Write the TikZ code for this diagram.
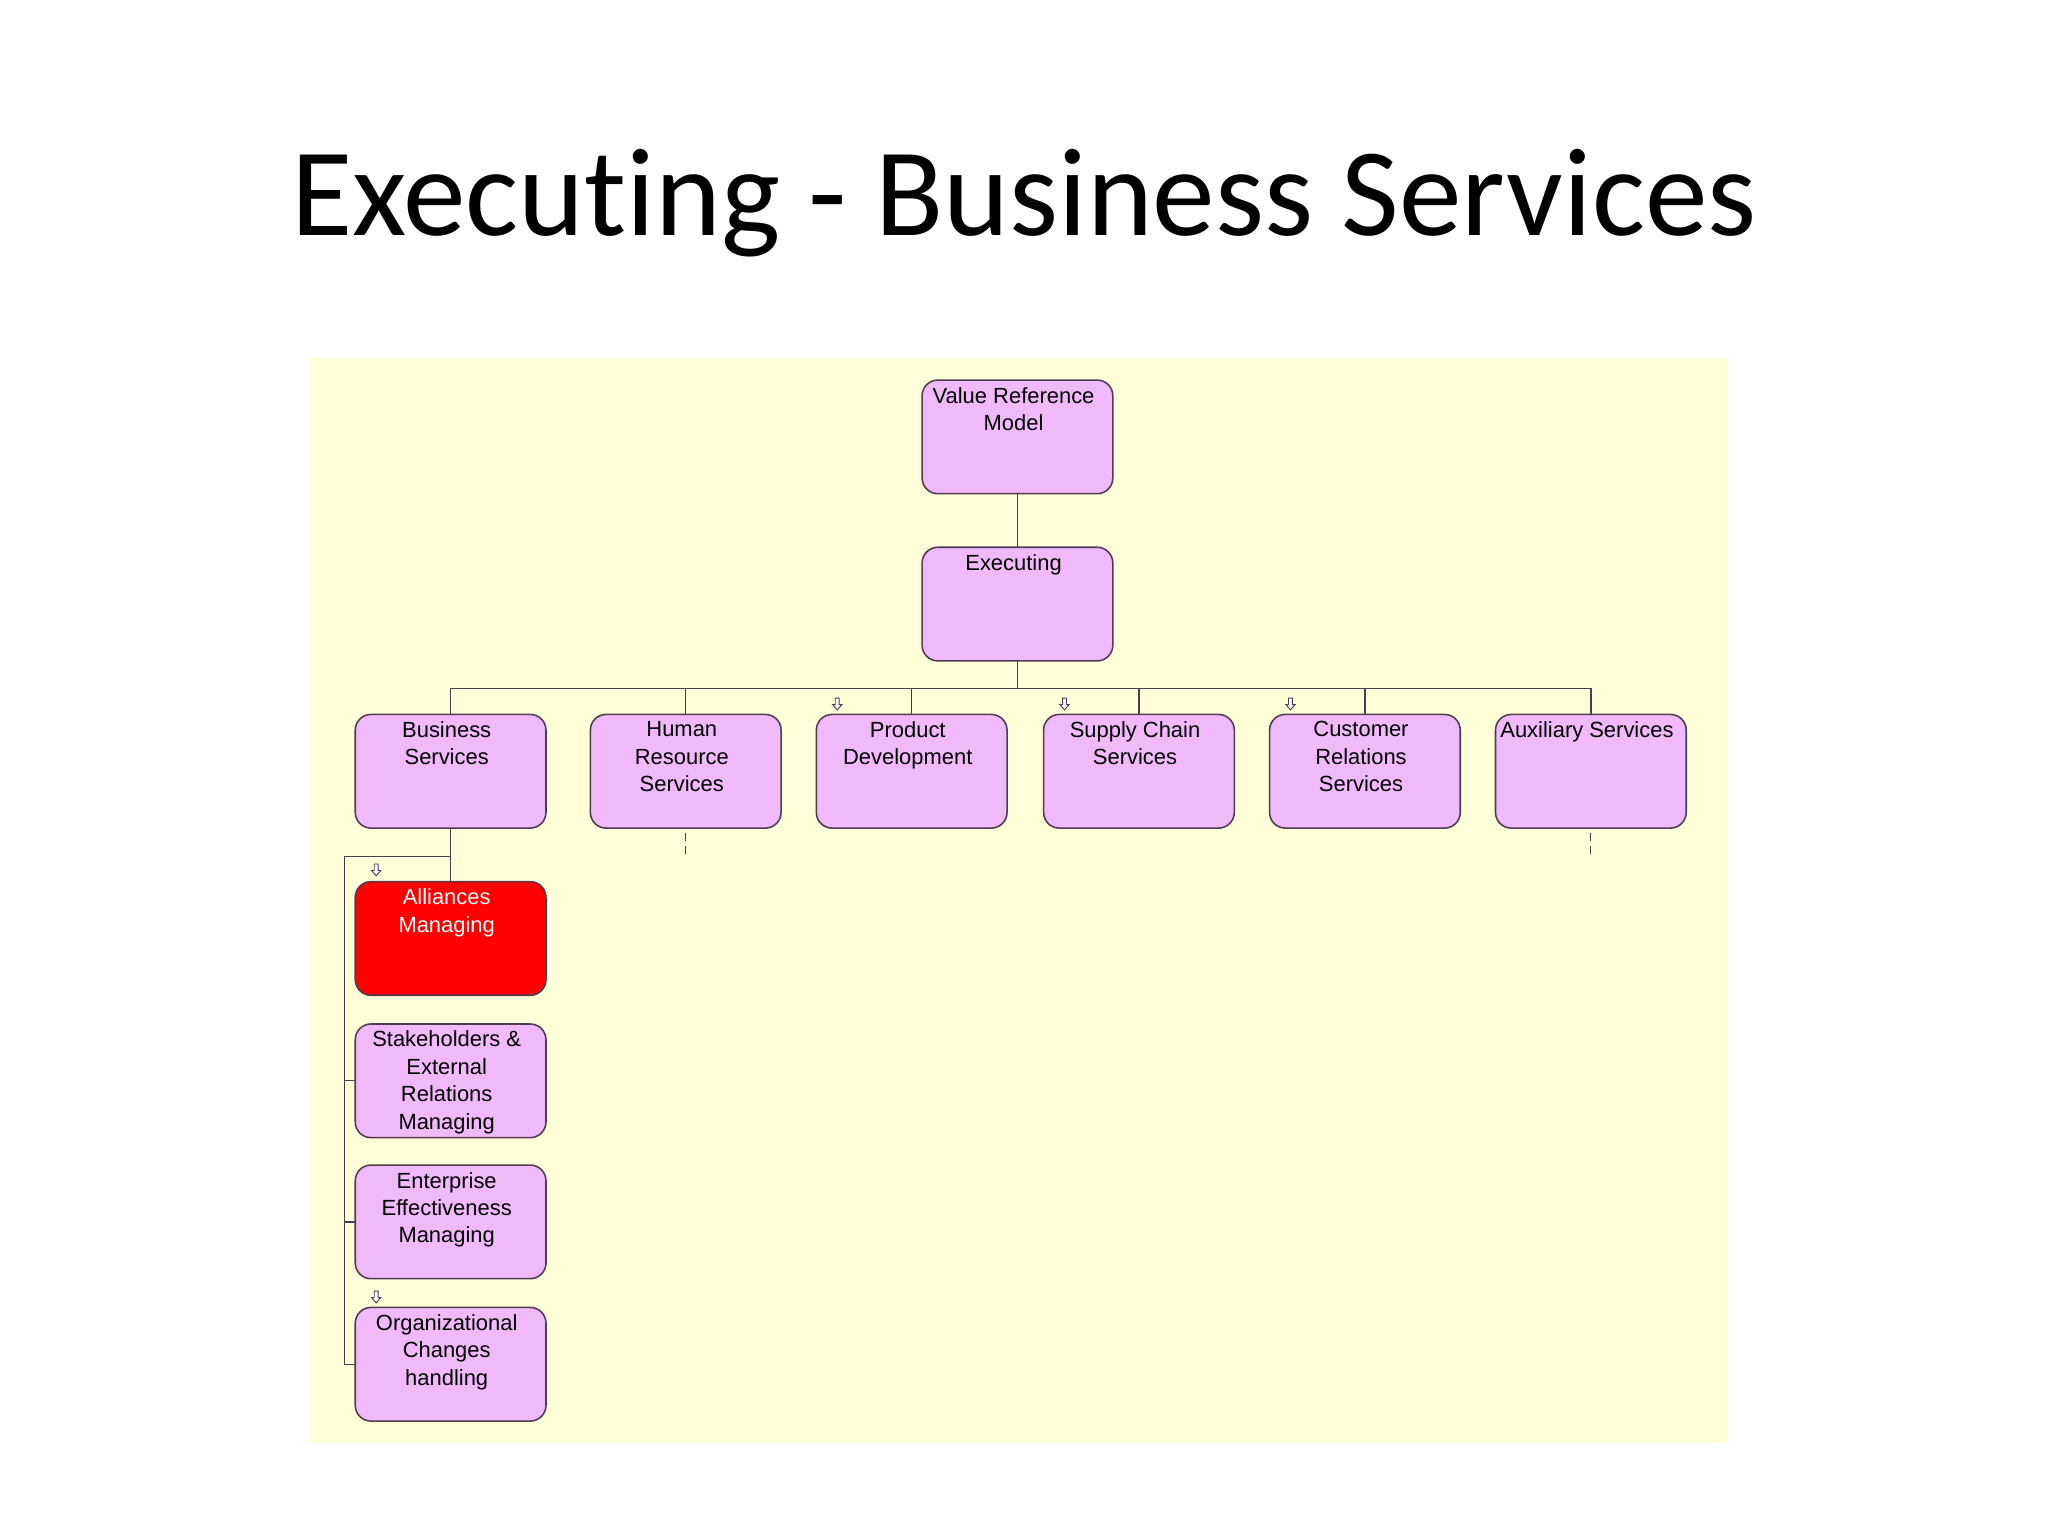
\documentclass[tikz,border=0pt]{standalone}
\usepackage{fontspec}
\setmainfont{Liberation Sans}
\newfontfamily\titlefont[Ligatures=NoCommon]{Carlito}
\definecolor{boxpink}{RGB}{240,186,250}
\definecolor{boxline}{RGB}{80,60,80}
\definecolor{bgyellow}{RGB}{255,255,217}
\definecolor{alred}{RGB}{255,0,0}
\begin{document}
\begin{tikzpicture}[x=0.5pt,y=-0.5pt,
  box/.style={draw=boxline, line width=0.6pt, fill=boxpink, rounded corners=6pt,
    minimum width=73pt, minimum height=43.5pt, inner sep=0pt, outer sep=0pt},
  lbl/.style={font=\fontsize{8.4}{10.5}\selectfont, align=center, inner sep=0pt, anchor=north, yshift=-2.5pt, xshift=-1.5pt},
  conn/.style={draw=boxline, line width=0.5pt},
  darr/.pic={\draw[boxline, line width=0.35pt, fill=white]
     (-1.5,-4.5) -- (1.5,-4.5) -- (1.5,0.5) -- (3.5,0.5) -- (0,4.5) -- (-3.5,0.5) -- (-1.5,0.5) -- cycle;}]
\useasboundingbox (0,0) rectangle (1568,1176);
\fill[white] (0,0) rectangle (1568,1176);
\fill[bgyellow] (237,274) rectangle (1322,1105);
\node[font=\titlefont\fontsize{48}{58}\selectfont, anchor=base, inner sep=0pt] (title) at (784,180) {Executing - Business Services};

% top boxes
\node[box] (vrm) at (779,334.5) {};
\node[lbl] (vrmt) at (vrm.north) {Value Reference\\Model};
\node[box] (exe) at (779,462.5) {};
\node[lbl] (exet) at (exe.north) {Executing};

% row
\node[box] (bs) at (345,590.5) {};
\node[lbl] (bst) at (bs.north) {Business\\Services};
\node[box] (hr) at (525,590.5) {};
\node[lbl] (hrt) at (hr.north) {Human\\Resource\\Services};
\node[box] (pd) at (698,590.5) {};
\node[lbl] (pdt) at (pd.north) {Product\\Development};
\node[box] (sc) at (872,590.5) {};
\node[lbl] (sct) at (sc.north) {Supply Chain\\Services};
\node[box] (cr) at (1045,590.5) {};
\node[lbl] (crt) at (cr.north) {Customer\\Relations\\Services};
\node[box] (aux) at (1218,590.5) {};
\node[lbl] (auxt) at (aux.north) {Auxiliary Services};

% children
\node[box, fill=alred] (al) at (345,718.5) {};
\node[lbl, text=white] (alt) at (al.north) {Alliances\\Managing};
\node[box] (st) at (345,827.5) {};
\node[lbl] (stt) at (st.north) {Stakeholders \&\\External\\Relations\\Managing};
\node[box] (ee) at (345,935.5) {};
\node[lbl] (eet) at (ee.north) {Enterprise\\Effectiveness\\Managing};
\node[box] (oc) at (345,1044.5) {};
\node[lbl] (oct) at (oc.north) {Organizational\\Changes\\handling};

% connectors
\coordinate (bus) at (780,527);
\coordinate (lt) at (264,656);
\draw[conn] (vrm.south) -- (exe.south |- vrm.south) -- (exe.north);
\draw[conn] (exe.south) -- (exe.south |- bus);
\draw[conn] (bs.north) |- (bus) -| (aux.north);
\draw[conn] (hr.north) -- (hr.north |- bus);
\draw[conn] (pd.north) -- (pd.north |- bus);
\draw[conn] (sc.north) -- (sc.north |- bus);
\draw[conn] (cr.north) -- (cr.north |- bus);
\draw[conn] (bs.south) -- (al.north);
\draw[conn] (bs.south |- lt) -- (lt) -- (lt |- oc.west) -- (oc.west);
\draw[conn] (lt |- st.west) -- (st.west);
\draw[conn] (lt |- ee.west) -- (ee.west);
\draw[conn, line width=0.35pt, dash pattern=on 3pt off 2pt] ([yshift=-2pt]hr.south) -- ++(0,16);
\draw[conn, line width=0.35pt, dash pattern=on 3pt off 2pt] ([yshift=-2pt]aux.south) -- ++(0,16);

% small arrows
\pic at (641,539) {darr};
\pic at (815,539) {darr};
\pic at (988,539) {darr};
\pic at (288,666) {darr};
\pic at (288,993) {darr};
\end{tikzpicture}
\end{document}
